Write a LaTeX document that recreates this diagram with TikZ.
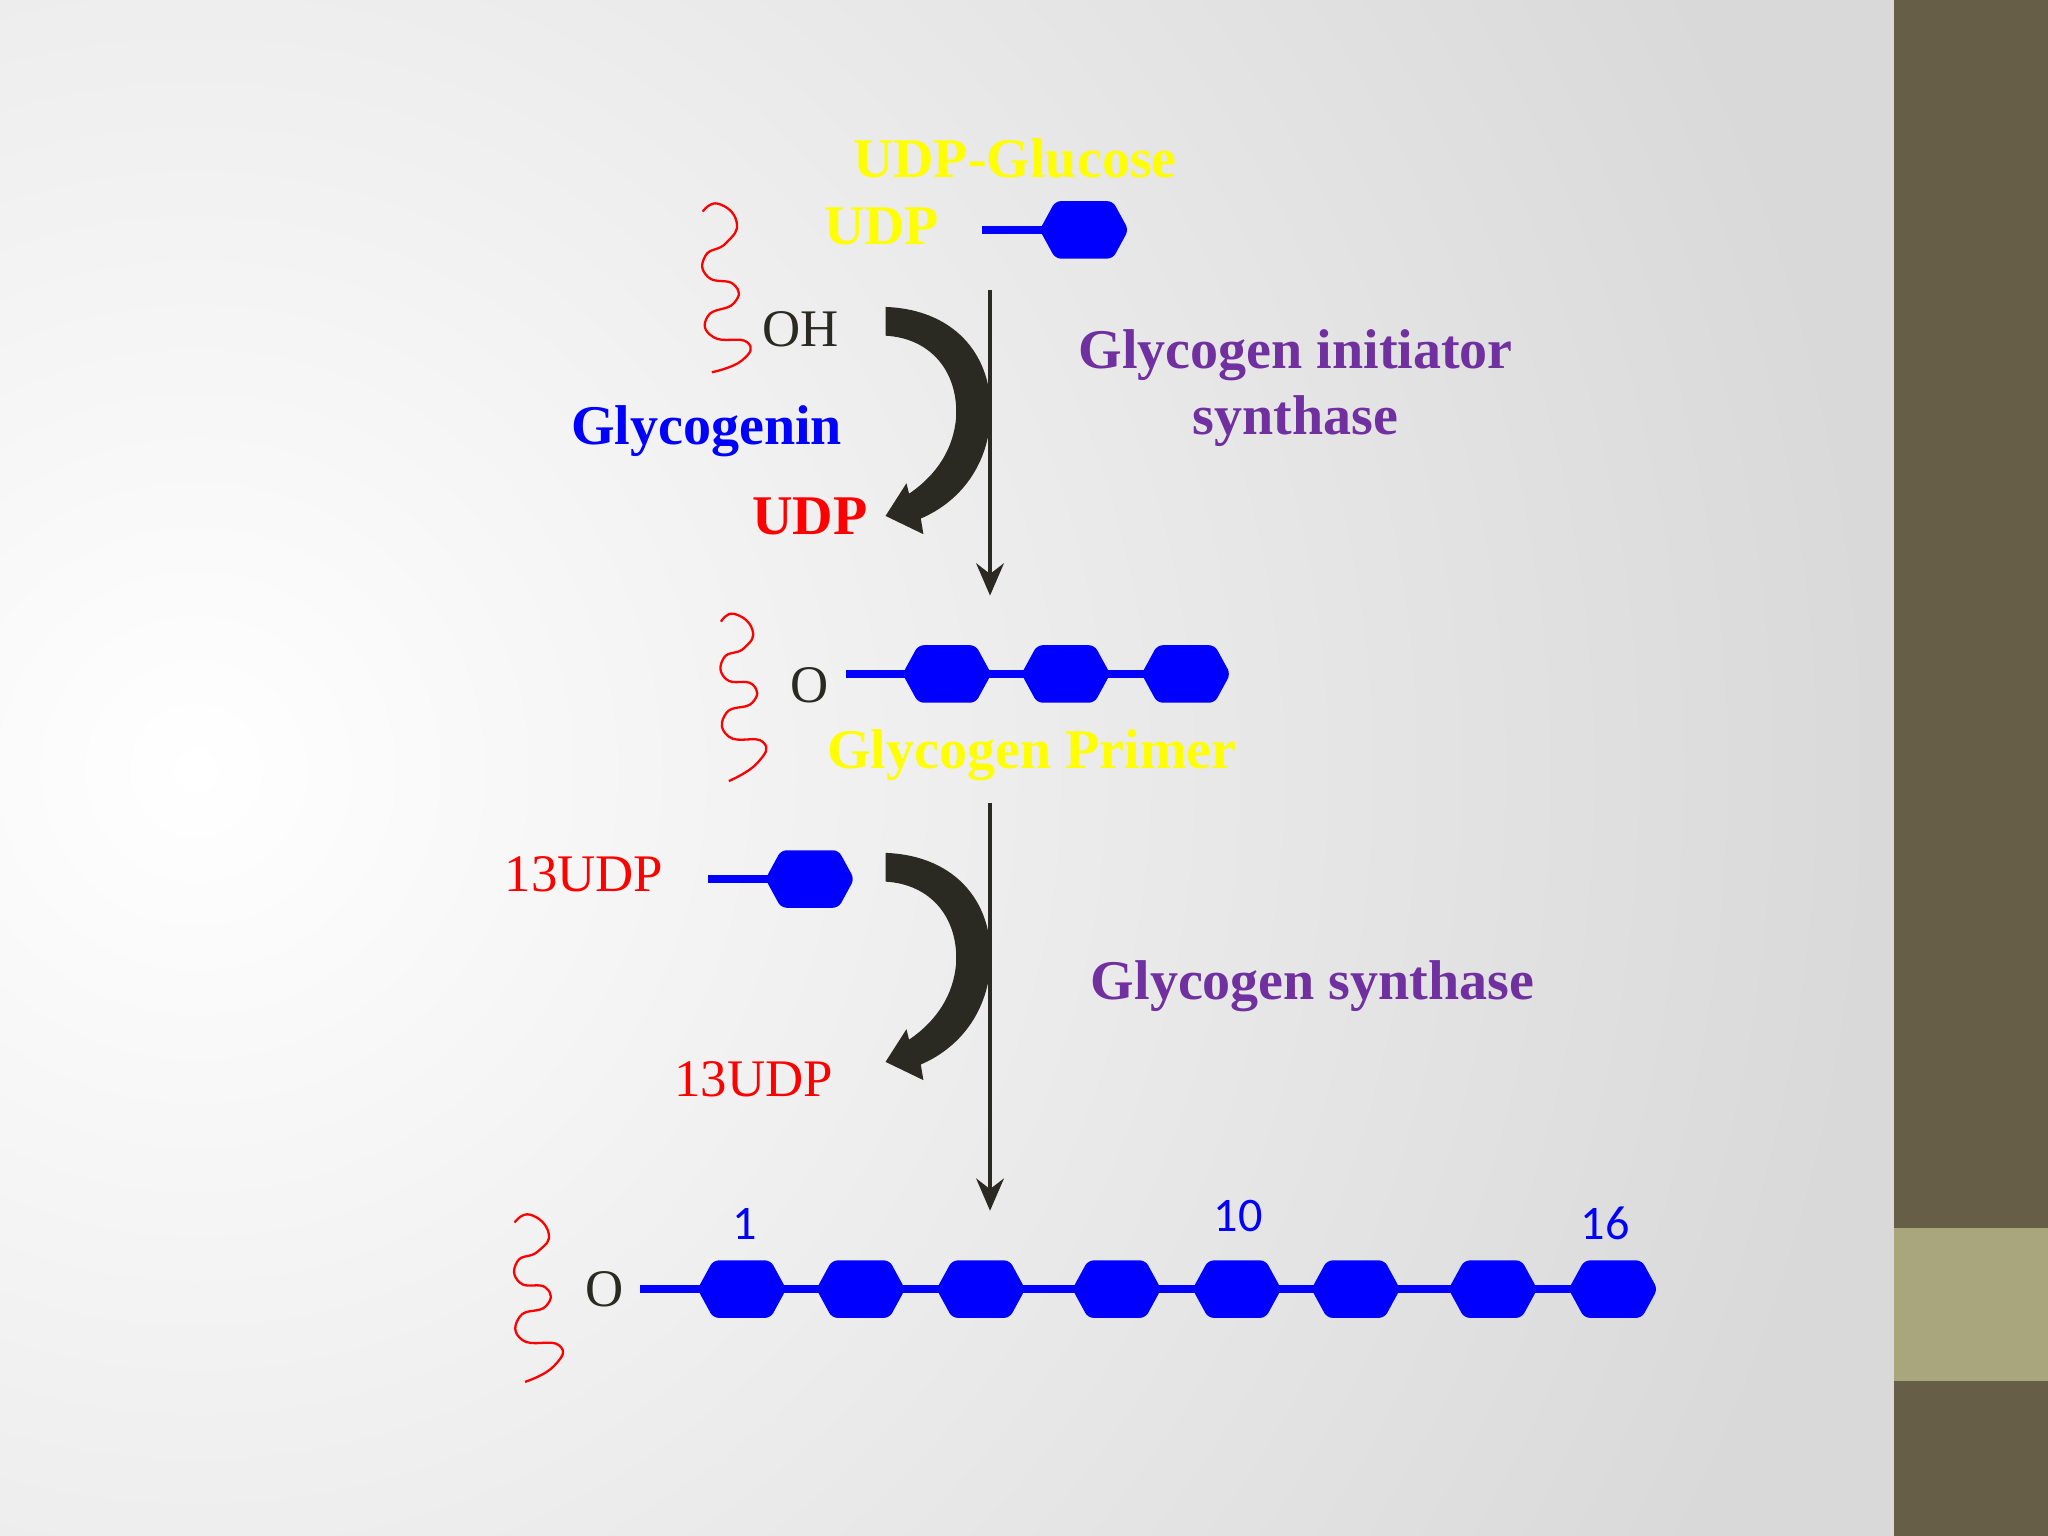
\documentclass[tikz,border=0pt]{standalone}
\usepackage{fontspec}
\setmainfont{Liberation Serif}
\newfontfamily\carl{Carlito}
\usetikzlibrary{arrows.meta}
\definecolor{barc}{HTML}{675E47}
\definecolor{bandc}{HTML}{A9A67E}
\definecolor{purp}{HTML}{7030A0}
\definecolor{yel}{HTML}{FFFF00}
\definecolor{dk}{HTML}{2B2A22}
\tikzset{
 lab/.style={font=\fontsize{12.2}{14.5}\selectfont\bfseries},
 reg/.style={font=\fontsize{11.5}{13}\selectfont},
 num/.style={font=\carl\fontsize{10.5}{12}\selectfont, text=blue},
 chain/.style={blue, line width=1.6pt},
 sq/.style={red, line width=0.5pt},
 pics/hex/.style={code={\fill[blue, rounded corners=1.2pt] (-34,0)--(-22,-22)--(22,-22)--(34,0)--(22,22)--(-22,22)--cycle;}},
 pics/cres/.style={code={
   \fill[dk] (0,0) .. controls (55,2) and (85,40) .. (80,90) .. controls (76,125) and (55,150) .. (27,162)
     -- (29,174) -- (0,160) -- (16,135) -- (18,143) .. controls (40,128) and (52,108) .. (54,85)
     .. controls (56,50) and (35,24) .. (0,22) -- cycle;}},
}
\begin{document}
\begin{tikzpicture}[x=0.01cm,y=-0.01cm]
\useasboundingbox (0,0) rectangle (1568,1176);
\fill[gray!30] (0,0) rectangle (1450,1176);
\begin{scope}
\clip (0,0) rectangle (1450,1176);
\shade[inner color=white, outer color=gray!30] (150,590) circle (1300);
\end{scope}
\fill[barc] (1450,0) rectangle (1568,1176);
\fill[bandc] (1450,940) rectangle (1568,1057);

% step 1
\node[lab, text=yel] (udpg) at (777,121) {UDP-Glucose};
\node[lab, text=yel] (udp1) at (675,173) {UDP};
\coordinate (c1) at (752,176);
\pic at (830,176) {hex};
\draw[chain] (c1) -- (800,176);
\draw[sq] plot[smooth, tension=0.9] coordinates {(538,162)(550,156)(564,170)(556,186)(540,196)(542,212)(562,218)(562,232)(542,242)(546,258)(572,262)(568,276)(545,285)};
\node[reg, text=dk] (oh) at (613,252) {OH};
\pic at (678,235) {cres};
\coordinate (a1) at (758,222); \coordinate (a2) at (758,456);
\draw[dk, line width=0.9pt, -{Stealth[length=7pt,width=6pt]}] (a1) -- (a2);
\node[lab, text=blue] (gn) at (541,330) {Glycogenin};
\node[lab, text=red] (udp2) at (620,395) {UDP};
\node[lab, text=purp, align=center] (gis) at (992,297) {Glycogen initiator\\synthase};

% primer
\draw[sq] plot[smooth, tension=0.9] coordinates {(552,476)(562,470)(576,482)(570,496)(554,504)(556,520)(576,524)(576,538)(556,546)(558,564)(584,568)(580,584)(558,598)};
\node[reg, text=dk] (o1) at (620,525) {O};
\coordinate (p0) at (648,516); \coordinate (p1) at (940,516);
\draw[chain] (p0) -- (p1);
\foreach \x in {725,816,908} \pic at (\x,516) {hex};
\node[lab, text=yel] (gp) at (790,578) {Glycogen Primer};

% step 2
\node[reg, text=red] (u13a) at (447,669) {13UDP};
\coordinate (c2) at (542,673);
\draw[chain] (c2) -- (600,673);
\pic at (620,673) {hex};
\pic at (678,653) {cres};
\coordinate (b1) at (758,615); \coordinate (b2) at (758,927);
\draw[dk, line width=0.9pt, -{Stealth[length=7pt,width=6pt]}] (b1) -- (b2);
\node[lab, text=purp] (gs) at (1005,755) {Glycogen synthase};
\node[reg, text=red] (u13b) at (577,826) {13UDP};

% product
\draw[sq] plot[smooth, tension=0.9] coordinates {(394,936)(406,930)(420,944)(412,958)(396,966)(398,982)(418,986)(418,1000)(398,1008)(400,1026)(428,1030)(424,1046)(402,1058)};
\node[reg, text=dk] (o2) at (463,987) {O};
\coordinate (q0) at (490,987); \coordinate (q1) at (1260,987);
\draw[chain] (q0) -- (q1);
\foreach \x in {568,659,751,855,947,1038,1143,1235} \pic at (\x,987) {hex};
\node[num] (n1) at (570,937) {1};
\node[num] (n10) at (948,931) {10};
\node[num] (n16) at (1229,937) {16};
\end{tikzpicture}
\end{document}
